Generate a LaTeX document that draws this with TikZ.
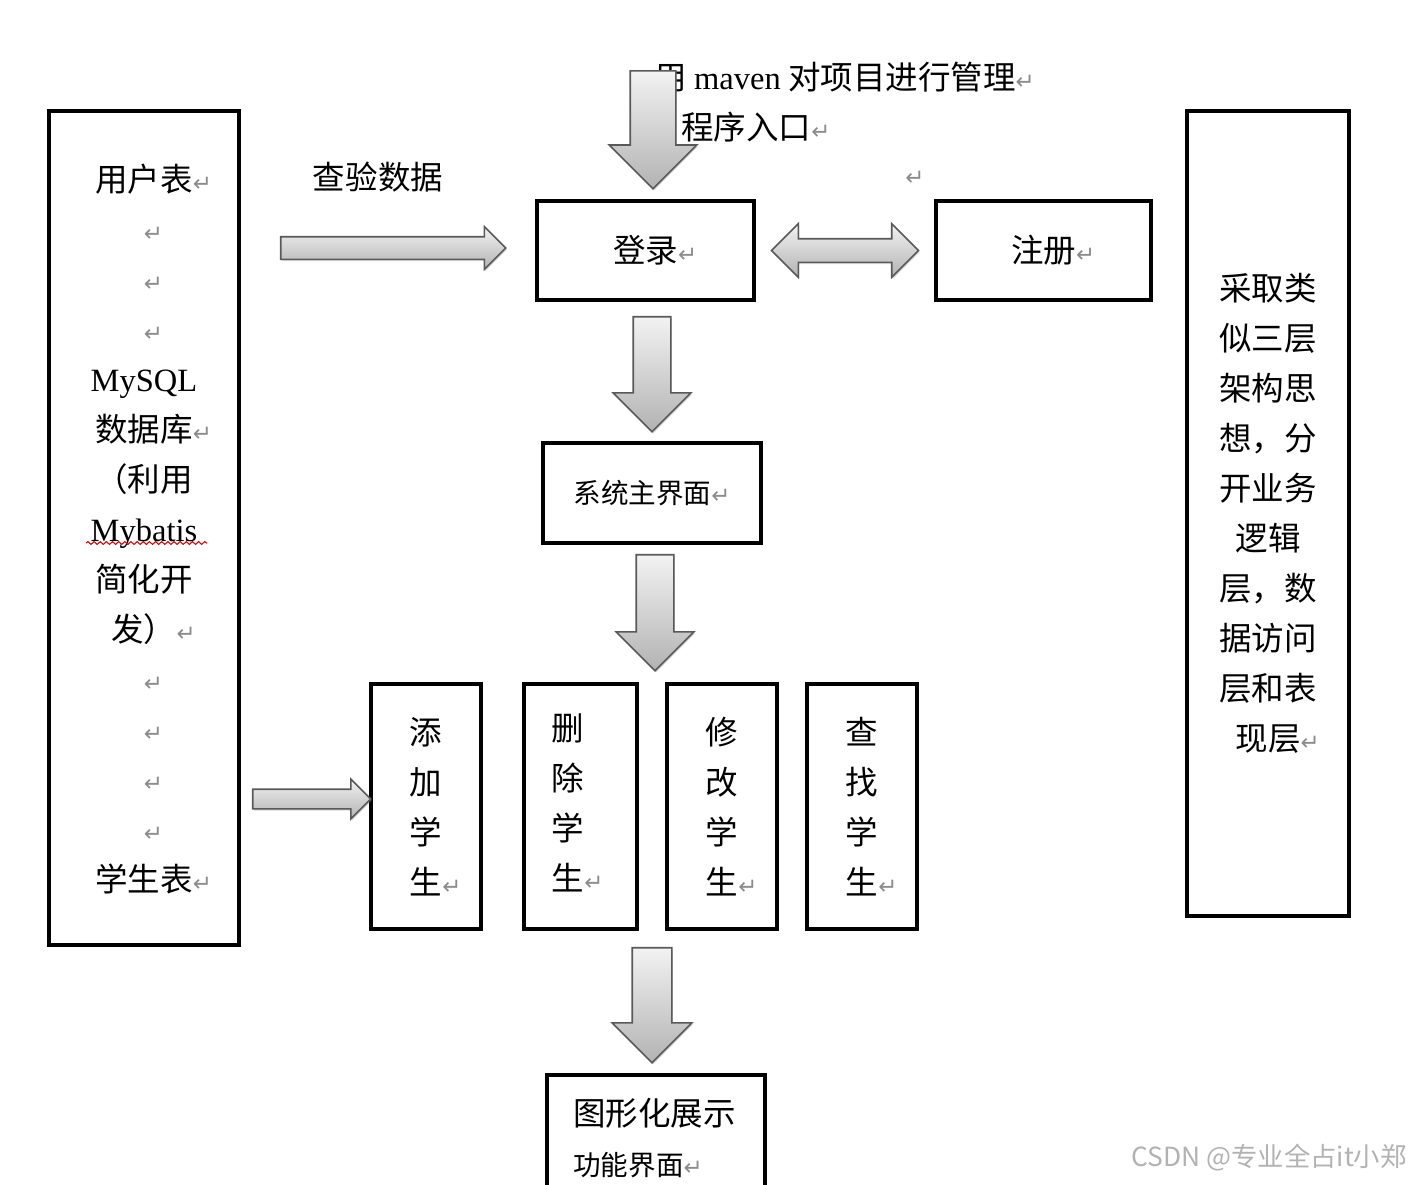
\documentclass[tikz,border=0pt]{standalone}
\usepackage{fontspec}
\setmainfont{Liberation Serif}
\newfontfamily\cjk{Noto Sans CJK SC}
\newfontfamily\symf{DejaVu Sans}
\usetikzlibrary{shapes.arrows,shadows,calc,decorations.pathmorphing}
\newcommand{\pxl}{0.02cm}
\newcommand{\cjkfont}{\cjk\fontsize{18.5}{28.45}\selectfont}
\newcommand{\cjksmall}{\cjk\fontsize{15.7}{28.45}\selectfont}
\newcommand{\retmk}{{\symf\color{black!45}\fontsize{13}{13}\selectfont ↵}}
\tikzset{
	box/.style 2 args={draw,line width=2.2pt,minimum width=#1*\pxl,minimum height=#2*\pxl,inner sep=0pt,align=center,font=\cjkfont},
	txt/.style={inner sep=0pt,align=center,font=\cjkfont},
	arr/.style n args={3}{single arrow,draw=black!65,line width=0.9pt,inner xsep=0pt,inner ysep=#2*0.5*\pxl,single arrow head extend=(#3-#2)*0.5*\pxl,minimum height=#1*\pxl,anchor=tail,top color=black!5,bottom color=black!30,drop shadow={opacity=.3,shadow xshift=.6pt,shadow yshift=-1pt}},
	downarr/.style n args={3}{arr={#1}{#2}{#3},rotate=-90},
	rightarr/.style n args={3}{arr={#1}{#2}{#3}},
	dblarr/.style n args={3}{double arrow,draw=black!65,line width=0.9pt,inner xsep=0pt,inner ysep=#2*0.5*\pxl,double arrow head extend=(#3-#2)*0.5*\pxl,minimum height=#1*\pxl,top color=black!5,bottom color=black!30,drop shadow={opacity=.3,shadow xshift=.6pt,shadow yshift=-1pt}}
}

\begin{document}
\begin{tikzpicture}[x=0.02cm,y=-0.02cm]
	\useasboundingbox (0,0) rectangle (1410,1184);

	\node[box={190}{834}] (db) at (144,528) {};
	\node[txt] (dbtxt) at (144,529) {用户表\rlap{\retmk}\\
		\rlap{\retmk}\\
		\rlap{\retmk}\\
		\rlap{\retmk}\\
		{\rmfamily MySQL}\\
		数据库\rlap{\retmk}\\
		（利用\\
		{\rmfamily Mybatis}\\
		简化开\\
		发）\rlap{\retmk}\\
		\rlap{\retmk}\\
		\rlap{\retmk}\\
		\rlap{\retmk}\\
		\rlap{\retmk}\\
		学生表\rlap{\retmk}};
	\draw[red!85!black,line width=0.6pt,decorate,decoration={snake,amplitude=0.8pt,segment length=3.5pt}] (86,543) -- (207,543);

	\node[box={162}{805}] (layer) at (1268,513.5) {采取类\\似三层\\架构思\\想，分\\开业务\\逻辑\\层，数\\据访问\\层和表\\现层\rlap{\retmk}};

	\node[box={217}{99}] (login) at (645.5,250.5) {登录\rlap{\retmk}};
	\node[box={215}{99}] (reg) at (1043.5,250.5) {注册\rlap{\retmk}};
	\node[box={218}{100},font=\cjksmall] (main) at (652,493) {系统主界面\retmk};

	\node[box={110}{245}] (add) at (426,806.5) {添\\加\\学\\生\rlap{\retmk}};
	\node[box={113}{245}] (del) at (580.5,806.5) {};
	\node[txt] (deltxt) at (568,803) {删\\除\\学\\生\rlap{\retmk}};
	\node[box={110}{245}] (mod) at (722,806.5) {修\\改\\学\\生\rlap{\retmk}};
	\node[box={110}{245}] (find) at (862,806.5) {查\\找\\学\\生\rlap{\retmk}};

	\node[box={218}{200}] (gui) at (656,1175) {};
	\node[txt,align=left,anchor=west] (guitxt) at (573,1138) {图形化展示\\{\cjksmall 功能界面}\retmk};

	\node[txt,anchor=west] (mvn) at (654,77) {用 {\rmfamily maven} 对项目进行管理\retmk};
	\node[txt,anchor=west] (entrytxt) at (681,127) {程序入口\retmk};
	\node[txt] (mk) at (915,178) {\retmk};
	\node[txt] (check) at (378,177) {查验数据};
	\node[anchor=east,inner sep=0pt,text=black!30,font=\cjk\fontsize{15}{15}\selectfont] (wm) at (1407,1158) {CSDN @专业全占it小郑};

	\coordinate (entry) at (653,70);
	\node[downarr={118}{44}{86}] (a1) at (entry) {};
	\node[downarr={115}{36}{76}] (a2) at ($(login.south)+(6.5,14)$) {};
	\node[downarr={116}{36}{76}] (a3) at ($(main.south)+(3,9)$) {};
	\node[downarr={115}{38}{78}] (a4) at ($($(del.south east)!.5!(mod.south west)$)+(0,16)$) {};
	\node[rightarr={225}{21}{41}] (a5) at ($(db.east |- login.west)+(39,-2.5)$) {};
	\path (login.east) -- (reg.west) node[midway,dblarr={147}{22}{52}] (a6) {};
	\node[rightarr={118}{18}{38}] (a7) at ($(db.east |- add.west)+(11,-7.5)$) {};
\end{tikzpicture}
\end{document}
